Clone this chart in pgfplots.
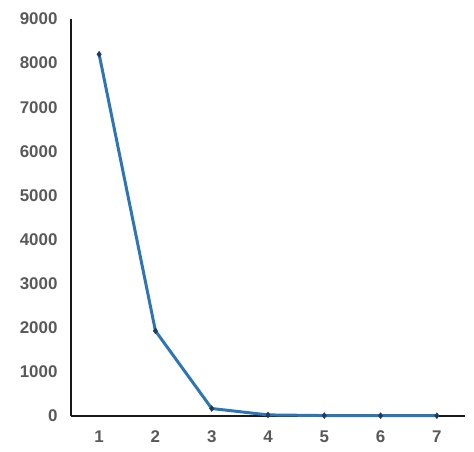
\documentclass[border=0pt]{standalone}
\usepackage{fontspec}
\setmainfont{Liberation Sans}
\usepackage{pgfplots}
\pgfplotsset{compat=1.18}
\definecolor{lineblue}{HTML}{2E75B6}
\definecolor{markblue}{HTML}{1F3B64}
\definecolor{ticklab}{HTML}{595959}
\begin{document}
\begin{tikzpicture}
\begin{axis}[
  scale only axis, width=394bp, height=397bp,
  xmin=0.5, xmax=7.5, ymin=0, ymax=9000,
  xtick={1,...,7}, ytick={0,1000,...,9000},
  axis x line=bottom, axis y line=left,
  axis line style={-, line width=1.6pt, black!90},
  major tick length=0pt,
  tick label style={font=\fontsize{17}{18}\selectfont\bfseries, text=ticklab},
  /pgf/number format/assume math mode=true,
  /pgf/number format/1000 sep={},
  yticklabel style={xshift=-10bp},
  xticklabel style={yshift=-11bp},
  clip=false,
]
\addplot[color=lineblue, line width=3pt,
  mark=diamond*, mark size=3pt,
  mark options={fill=markblue, draw=markblue, line width=0.4pt}]
  coordinates {(1,8200) (2,1930) (3,170) (4,25) (5,10) (6,8) (7,6)};
\end{axis}
\path (current axis.south west) ++(-71bp,-35bp);
\path (current axis.north east) ++(9bp,19bp);
\end{tikzpicture}
\end{document}
